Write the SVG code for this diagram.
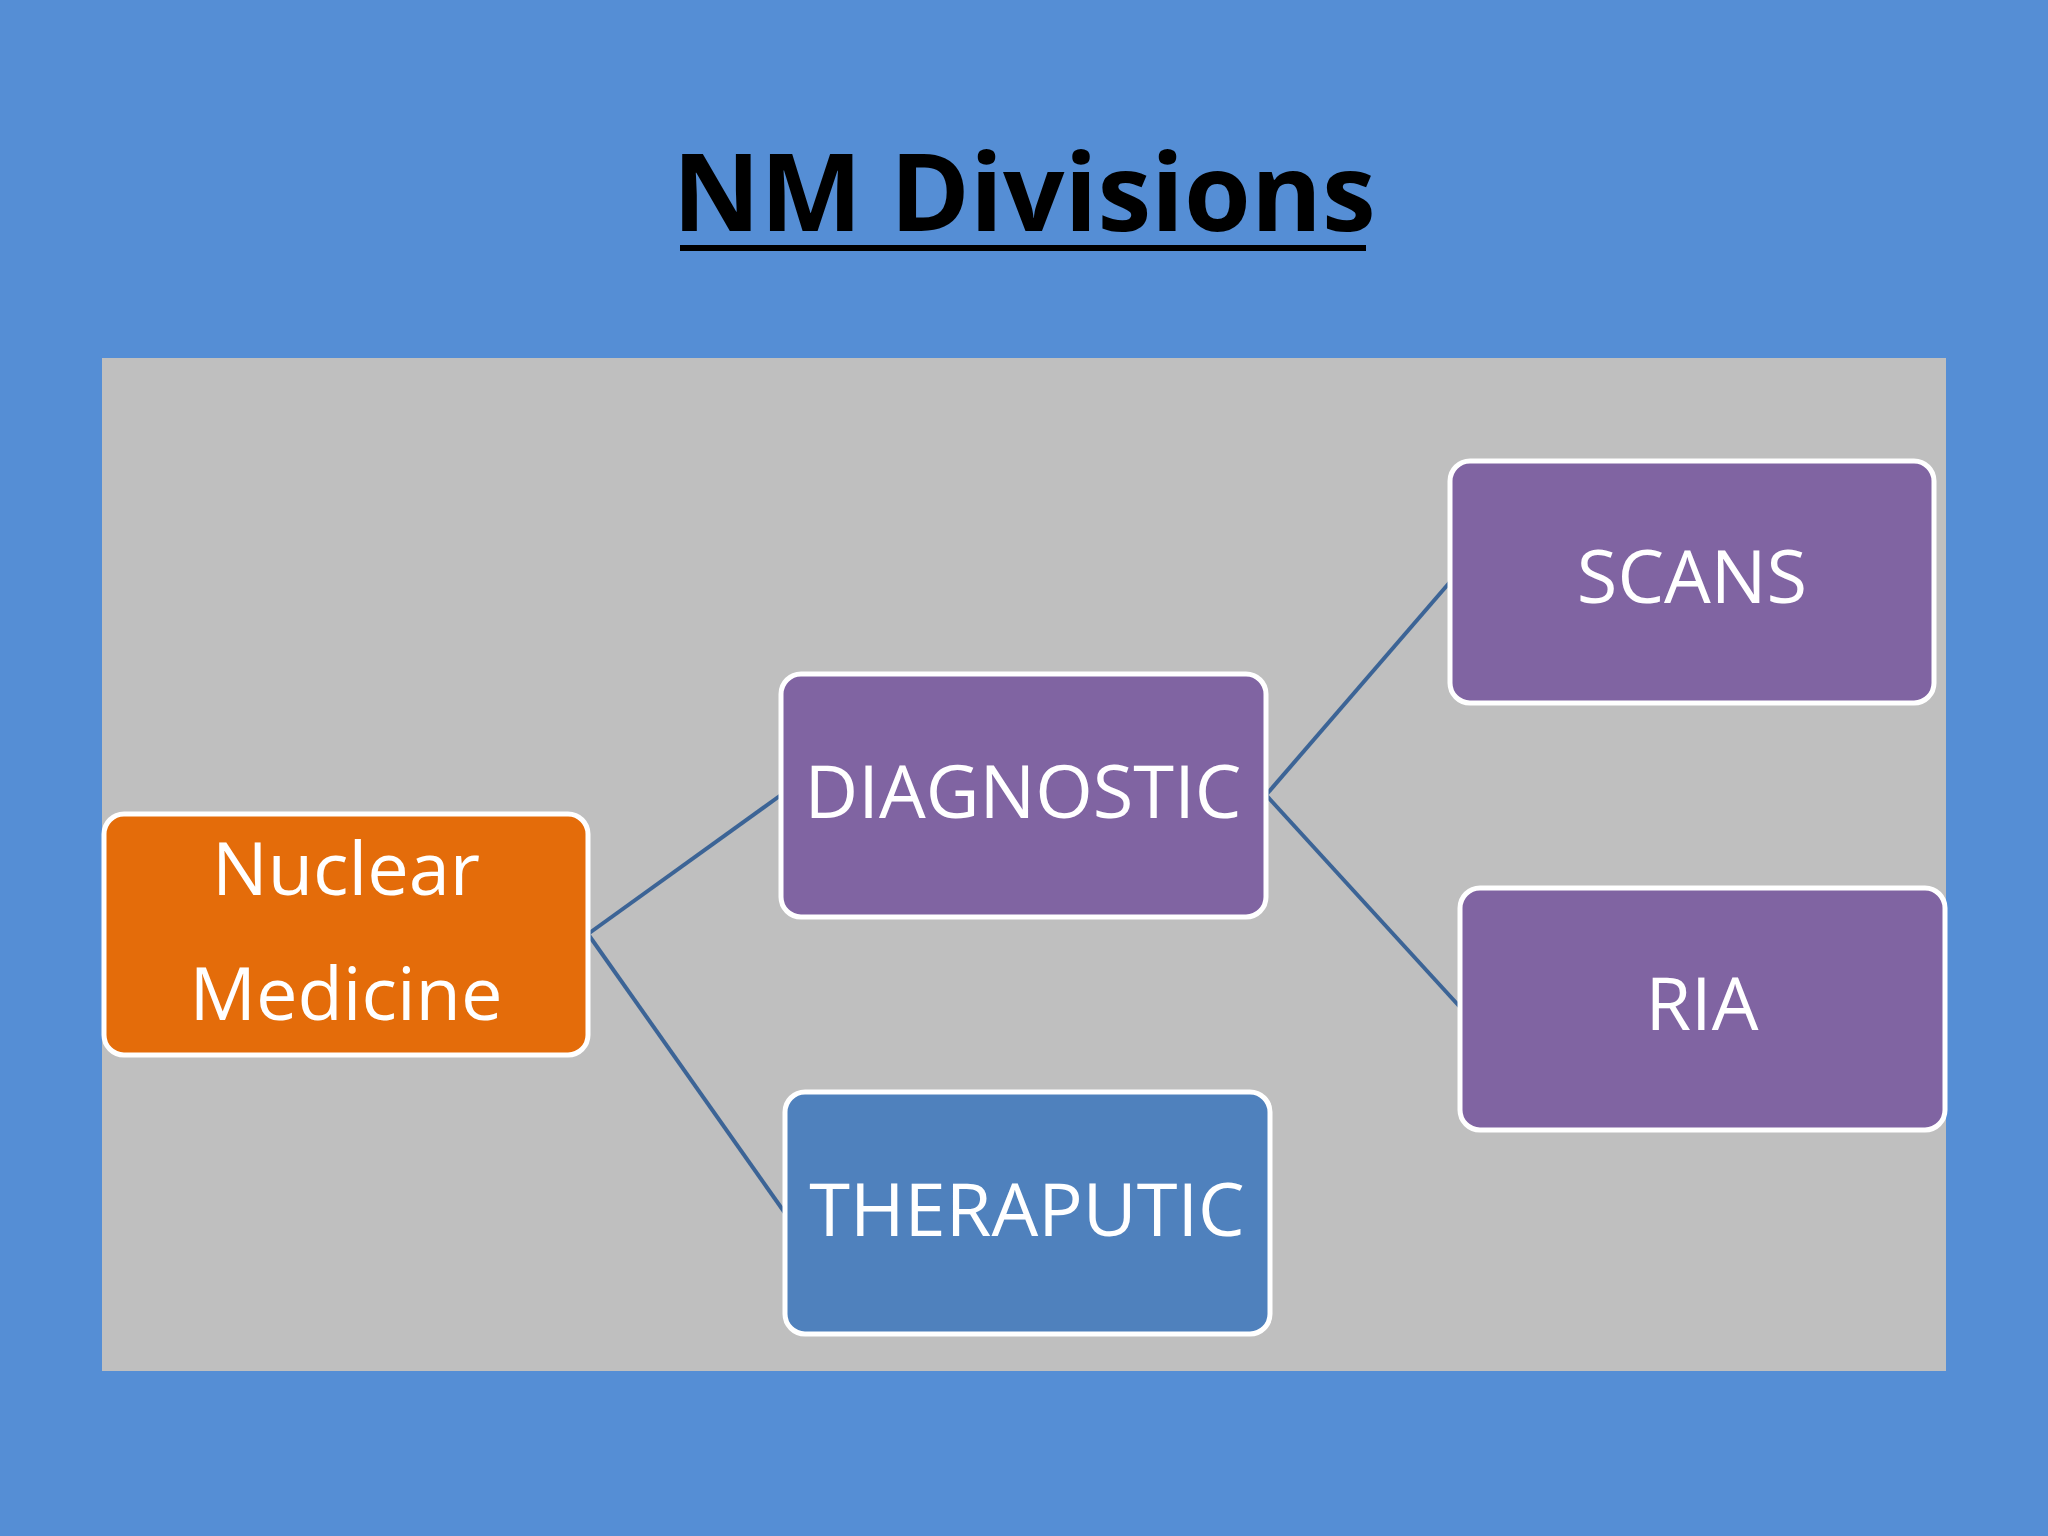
<svg xmlns="http://www.w3.org/2000/svg" width="2048" height="1536" viewBox="0 0 2048 1536">
<style>
.n{stroke:#fff;stroke-width:5}
.t{font-family:"Open Sans",sans-serif;font-size:74px;fill:#fff;text-anchor:middle}
.c{stroke:#3C6496;stroke-width:4;fill:none}
</style>
<rect width="2048" height="1536" fill="#558ED5"/>
<rect x="102" y="358" width="1844" height="1013" fill="#BFBFBF"/>
<text x="1024" y="231" font-family="Open Sans,sans-serif" font-weight="bold" font-size="108" text-anchor="middle" fill="#000">NM Divisions</text>
<rect x="680" y="245" width="686" height="6" fill="#000"/>
<g id="connectors">
<line class="c" x1="588" y1="934" x2="781" y2="795"/>
<line class="c" x1="588" y1="934" x2="785" y2="1213"/>
<line class="c" x1="1266" y1="795" x2="1450" y2="582"/>
<line class="c" x1="1266" y1="795" x2="1460" y2="1007"/>
</g>
<g id="nuclear"><rect class="n" x="104" y="814" width="484" height="241" rx="20" fill="#E46C0A"/>
<text class="t" x="346" y="895">Nuclear</text><text class="t" x="346" y="1020">Medicine</text></g>
<g id="diagnostic"><rect class="n" x="781" y="674" width="485" height="243" rx="20" fill="#8064A2"/>
<text class="t" x="1023" y="818">DIAGNOSTIC</text></g>
<g id="theraputic"><rect class="n" x="785" y="1092" width="485" height="242" rx="20" fill="#4F81BD"/>
<text class="t" x="1027" y="1236">THERAPUTIC</text></g>
<g id="scans"><rect class="n" x="1450" y="461" width="484" height="242" rx="20" fill="#8064A2"/>
<text class="t" x="1692" y="603">SCANS</text></g>
<g id="ria"><rect class="n" x="1460" y="888" width="485" height="242" rx="20" fill="#8064A2"/>
<text class="t" x="1702" y="1030">RIA</text></g>
</svg>
